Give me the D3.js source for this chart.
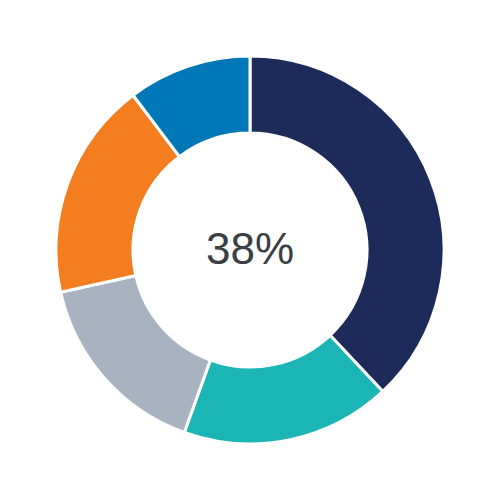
<!DOCTYPE html>
<html><head><meta charset="utf-8">
<script src="https://cdn.jsdelivr.net/npm/d3@7"></script>
<style>html,body{margin:0;padding:0;background:#fff;}</style>
</head><body>
<script>
const categories = ["A","B","C","D","E"];
const values = [38, 17.5, 16, 18.2, 10.3];
const colors = ["#1c2b5a","#1bb5b5","#a8b2c1","#f47d20","#0077b6"];
const centerLabel = "38%";

const W = 500, H = 500, cx = 250, cy = 250, rOuter = 194, rInner = 117;
const svg = d3.select("body").append("svg").attr("width", W).attr("height", H);
const g = svg.append("g").attr("transform", `translate(${cx},${cy})`);
const data = categories.map((c,i)=>({c, v: values[i], col: colors[i]}));
const pie = d3.pie().value(d=>d.v).sort(null);
const arc = d3.arc().innerRadius(rInner).outerRadius(rOuter);
g.selectAll("path").data(pie(data)).join("path")
  .attr("d", arc).attr("fill", d=>d.data.col)
  .attr("stroke", "#fff").attr("stroke-width", 3).attr("stroke-linejoin","miter");
g.append("text").attr("text-anchor","middle").attr("y", 14)
  .attr("font-family","Liberation Sans, Arial, sans-serif").attr("font-size", 44)
  .attr("fill","#3b3e44").text(centerLabel);
</script>
</body></html>
